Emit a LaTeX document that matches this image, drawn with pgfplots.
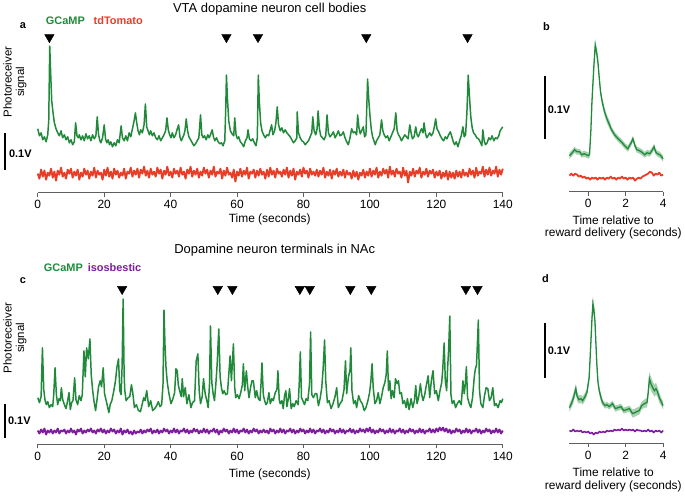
\documentclass[border=0pt]{standalone}
\usepackage{pgfplots}
\pgfplotsset{compat=1.18}
\usepgfplotslibrary{fillbetween}
\usepackage{pgfplotstable}
\usepackage{fontspec}
\setmainfont{Liberation Sans}

\definecolor{gcamp}{RGB}{32,138,58}
\definecolor{tdtom}{RGB}{232,62,40}
\definecolor{iso}{RGB}{128,26,160}
\definecolor{axgray}{RGB}{95,95,95}

\newcommand\lab{\fontsize{12}{13}\selectfont}
\newcommand\ttl{\fontsize{13}{15}\selectfont}
\newcommand\bld{\fontsize{11}{12}\selectfont\bfseries}

% averaged traces: time, mean, spread (signal heights in panel units)
\pgfplotstableread{
t m s
-1.0 36 3
-0.85 39 3
-0.73 42 3
-0.6 40 3
-0.46 40 3
-0.35 37 3
-0.2 38 3
-0.1 37 3
0.0 36 3
0.07 37 3
0.14 60 4
0.2 90 5
0.3 125 5
0.375 147 6
0.45 140 5
0.52 130 5
0.6 112 4
0.66 100 4
0.75 90 4
0.875 80 4
1.0 73 4
1.14 67 4
1.25 62 3
1.41 57 3
1.6 53 3
1.77 50 3
1.95 46 3
2.12 43 3
2.2 46 3
2.27 48 3
2.39 53 3
2.5 46 3
2.6 42 3
2.75 41 3
2.9 39 3
3.02 37 3
3.15 39 3
3.29 38 3
3.4 41 3
3.52 45 3
3.6 40 3
3.7 38 3
3.82 37 3
3.92 35 3
4.0 33 3
}\bgreen

\pgfplotstableread{
t m s
-1.0 36 4
-0.9 40 4
-0.8 45 5
-0.7 52 5
-0.66 55 5
-0.6 48 5
-0.5 44 4
-0.39 45 4
-0.3 43 4
-0.2 46 4
-0.07 51 4
0.05 66 5
0.14 100 6
0.2 125 7
0.25 140 8
0.3 135 7
0.36 123 6
0.46 80 5
0.52 62 4
0.59 53 4
0.7 45 4
0.77 41 3
0.9 38 3
1.0 39 3
1.12 37 3
1.3 40 3
1.45 35 3
1.6 36 3
1.75 37 3
1.9 33 3
2.05 34 3
2.2 35 3
2.37 30 4
2.5 31 4
2.6 32 4
2.73 33 4
2.85 38 4
3.0 40 4
3.14 41 5
3.2 50 6
3.27 65 7
3.35 60 7
3.45 56 6
3.54 53 6
3.62 55 6
3.7 52 5
3.8 46 5
3.9 42 4
4.0 38 4
}\dgreen

\pgfplotsset{
  trace/.style={
    scale only axis, anchor=south west, clip=false,
    height=170pt, ymin=0, ymax=170,
    axis x line=bottom, axis y line=none, ytick=\empty,
    x axis line style={-, draw=axgray, line width=1pt},
    tick align=outside, major tick length=4pt,
    major tick style={draw=axgray, line width=1pt},
    tick label style={font=\lab},
    /pgf/number format/assume math mode=true,
  },
  marker/.style={only marks, mark=triangle*, mark size=5.5pt,
    mark options={rotate=180, fill=black, draw=black}},
  bar/.style={black, line width=2pt},
  sig/.style={line width=1.5pt, line join=round},
  ctl/.style={line width=1.9pt, line join=round},
}

\begin{document}
\begin{tikzpicture}
\path (0pt,0pt) rectangle (685pt,-493pt);

% ---------------- panel a ----------------
\begin{axis}[trace, at={(37pt,-191pt)}, width=467pt, xmin=0, xmax=140, xtick={0,20,...,140}]
\addplot[tdtom, ctl] coordinates {
(0,19)(0.5,14)(1,23)(1.5,16)(2,22)(2.5,13)(3,20)(3.5,17)(4,24)(4.5,15)(5,21)(5.5,12)(6,22)(6.5,18)(7,25)(7.5,16)(8,20)(8.5,14)(9,23)(9.5,19)
(10,24)(10.5,15)(11,21)(11.5,17)(12,23)(12.5,13)(13,20)(13.5,16)(14,24)(14.5,18)(15,22)(15.5,14)(16,21)(16.5,17)(17,25)(17.5,15)(18,22)(18.5,18)(19,20)(19.5,13)
(20,23)(20.5,17)(21,25)(21.5,16)(22,21)(22.5,14)(23,24)(23.5,18)(24,22)(24.5,15)(25,20)(25.5,17)(26,24)(26.5,14)(27,21)(27.5,19)(28,25)(28.5,16)(29,22)(29.5,18)
(30,24)(30.5,15)(31,23)(31.5,19)(32,26)(32.5,17)(33,22)(33.5,15)(34,24)(34.5,18)(35,21)(35.5,16)(36,25)(36.5,19)(37,23)(37.5,14)(38,22)(38.5,18)(39,26)(39.5,17)
(40,21)(40.5,15)(41,24)(41.5,19)(42,22)(42.5,16)(43,25)(43.5,18)(44,21)(44.5,14)(45,23)(45.5,19)(46,26)(46.5,16)(47,22)(47.5,18)(48,24)(48.5,15)(49,21)(49.5,17)
(50,25)(50.5,19)(51,23)(51.5,15)(52,22)(52.5,18)(53,26)(53.5,16)(54,21)(54.5,19)(55,24)(55.5,14)(56,22)(56.5,17)(57,25)(57.5,18)(58,20)(58.5,15)(59,23)(59.5,11)
(60,21)(60.5,17)(61,24)(61.5,16)(62,22)(62.5,18)(63,25)(63.5,14)(64,21)(64.5,19)(65,23)(65.5,15)(66,22)(66.5,17)(67,24)(67.5,18)(68,21)(68.5,14)(69,23)(69.5,16)
(70,25)(70.5,18)(71,22)(71.5,15)(72,24)(72.5,19)(73,21)(73.5,16)(74,23)(74.5,18)(75,25)(75.5,15)(76,22)(76.5,17)(77,24)(77.5,13)(78,21)(78.5,18)(79,23)(79.5,16)
(80,25)(80.5,19)(81,22)(81.5,15)(82,24)(82.5,18)(83,21)(83.5,17)(84,23)(84.5,16)(85,22)(85.5,18)(86,25)(86.5,15)(87,21)(87.5,17)(88,23)(88.5,14)(89,22)(89.5,18)
(90,24)(90.5,16)(91,21)(91.5,17)(92,23)(92.5,15)(93,22)(93.5,18)(94,20)(94.5,14)(95,22)(95.5,16)(96,21)(96.5,13)(97,20)(97.5,17)(98,23)(98.5,15)(99,21)(99.5,17)
(100,24)(100.5,16)(101,22)(101.5,18)(102,25)(102.5,15)(103,21)(103.5,17)(104,24)(104.5,19)(105,23)(105.5,15)(106,26)(106.5,18)(107,22)(107.5,16)(108,24)(108.5,19)(109,21)(109.5,15)
(110,25)(110.5,17)(111,22)(111.5,10)(112,21)(112.5,17)(113,24)(113.5,16)(114,22)(114.5,19)(115,25)(115.5,15)(116,21)(116.5,18)(117,24)(117.5,16)(118,22)(118.5,19)(119,23)(119.5,15)
(120,21)(120.5,17)(121,22)(121.5,14)(122,20)(122.5,16)(123,22)(123.5,13)(124,21)(124.5,15)(125,20)(125.5,14)(126,22)(126.5,16)(127,21)(127.5,15)(128,23)(128.5,17)(129,20)(129.5,16)
(130,24)(130.5,18)(131,22)(131.5,15)(132,25)(132.5,17)(133,21)(133.5,19)(134,26)(134.5,16)(135,23)(135.5,18)(136,25)(136.5,17)(137,22)(137.5,19)(138,26)(138.5,16)(139,23)(139.5,18)(140,24)
};
\addplot[gcamp, sig] coordinates {
(0,64)(0.5,57)(1,60)(1.5,53)(2,56)(2.5,51)(3,58)(3.3,72)(3.6,147)(3.9,118)(4.2,92)(4.6,80)(5,70)(5.5,64)(6,60)(6.5,57)(7,62)(7.5,55)(8,58)(8.5,53)(9,56)(9.5,50)(10,53)(10.5,48)(11,51)(11.4,70)(11.8,57)
(12.2,55)(12.5,58)(13,53)(13.5,57)(14,52)(14.5,59)(15,54)(15.5,57)(16,52)(16.5,58)(17,54)(17.5,57)(17.9,76)(18.3,58)(18.7,52)(19,50)(19.5,55)(20,68)(20.4,54)(20.8,50)(21.2,53)(21.6,48)(22,51)(22.5,46)(23,50)(23.5,47)(24,53)(24.5,50)(25.1,67)
(25.5,55)(26,52)(26.5,57)(27,52)(27.5,60)(28,56)(28.5,64)(29,72)(29.4,80)(29.8,70)(30.2,62)(30.6,58)(31,63)(31.5,60)(32,68)(32.4,89)(32.8,66)(33.2,62)(33.6,58)(34,62)(34.5,57)(35,60)(35.5,55)(36,53)(36.5,57)(37,52)(37.5,55)(38,58)(38.5,62)(38.9,75)
(39.3,63)(39.7,58)(40.1,55)(40.5,60)(41,55)(41.5,58)(42,64)(42.4,68)(42.8,56)(43.2,52)(43.6,55)(44,58)(44.3,62)(44.7,74)(45.1,62)(45.5,56)(46,53)(46.5,50)(47,47)(47.5,49)(48,52)(48.5,55)(49,78)(49.4,58)(49.8,55)(50.2,57)(50.7,53)(51.2,58)(51.6,55)(52,58)(52.5,63)
(52.9,56)(53.3,52)(53.8,55)(54.3,51)(54.8,49)(55.3,50)(55.8,47)(56.3,52)(56.6,85)(56.8,118)(57.1,95)(57.5,72)(58,62)(58.5,59)(59,57)(59.3,75)(59.7,58)(60.1,54)(60.5,56)(61,51)(61.5,49)(62,46)(62.5,52)(63,55)(63.3,63)(63.7,54)(64.2,52)(64.7,54)(65.2,50)(65.7,47)
(66.1,55)(66.4,118)(66.7,92)(67.1,70)(67.5,62)(68,58)(68.5,55)(69,58)(69.5,57)(70,63)(70.4,68)(70.8,58)(71.3,62)(71.7,70)(72.1,86)(72.5,68)(73,62)(73.5,65)(74,60)(74.5,63)(75,60)(75.5,58)(76,56)(76.5,53)(77,50)(77.5,52)(78,55)(78.1,81)(78.5,60)(79,55)(79.5,52)
(80,51)(80.5,48)(81,50)(81.5,52)(82,56)(82.5,60)(82.8,76)(83.2,62)(83.7,58)(84.1,64)(84.4,82)(84.8,64)(85.2,57)(85.7,55)(86.2,53)(86.7,57)(87.1,78)(87.5,60)(88,56)(88.5,58)(89,61)(89.5,55)(90,58)(90.5,62)(91,57)(91.5,58)(92,61)(92.5,55)(93,51)(93.5,48)(94,55)
(94.5,64)(95,60)(95.5,61)(96,58)(96.3,78)(96.7,65)(97.1,59)(97.5,62)(98,66)(98.4,56)(98.8,58)(99.1,90)(99.3,114)(99.6,96)(100,78)(100.4,64)(100.8,56)(101.2,52)(101.6,48)(102,52)(102.5,55)(103,58)(103.5,73)(103.9,62)(104.3,58)(104.8,55)(105.3,57)(105.8,52)
(106.3,56)(106.8,60)(107.3,64)(107.8,80)(108.2,62)(108.6,58)(109,56)(109.5,52)(110,55)(110.5,58)(111,56)(111.5,54)(112,68)(112.4,60)(112.8,54)(113.3,56)(113.8,66)(114.2,58)(114.6,56)(115,60)(115.5,64)(116,60)(116.3,70)(116.7,60)(117.1,55)(117.5,57)(118,60)
(118.5,57)(119,60)(119.4,66)(119.8,74)(120.2,64)(120.7,61)(121.2,57)(121.7,54)(122.2,52)(122.7,56)(123.2,54)(123.7,58)(124.2,61)(124.6,57)(125,52)(125.5,48)(126,51)(126.5,46)(127,52)(127.5,57)(128,66)(128.4,56)(128.8,58)(129.2,80)(129.6,118)(130,95)(130.4,75)
(130.8,65)(131.2,60)(131.7,58)(132.2,55)(132.7,54)(133.2,51)(133.7,47)(134,63)(134.4,52)(134.8,48)(135.3,50)(135.8,55)(136.3,53)(136.8,57)(137.3,52)(137.8,55)(138.3,54)(138.8,57)(139.2,62)(139.6,64)(140,66)
};
\addplot[marker] coordinates {(3.5,156)(56.8,156)(66.3,156)(98.9,156)(129.4,156)};
\addplot[bar] coordinates {(-9.9,23)(-9.9,60)};
\end{axis}

% ---------------- panel b ----------------
\begin{axis}[trace, at={(571pt,-190pt)}, width=94pt, xmin=-1, xmax=4, xtick={0,2,4}]
\addplot[name path=bu, draw=none] table[x=t, y expr=\thisrow{m}+\thisrow{s}] {\bgreen};
\addplot[name path=bl, draw=none] table[x=t, y expr=\thisrow{m}-\thisrow{s}] {\bgreen};
\addplot[gcamp!40] fill between[of=bu and bl];
\addplot[gcamp, line width=1.3pt] table[x=t, y=m] {\bgreen};
\addplot[tdtom, line width=1.8pt, line join=round] coordinates {
(-1,16)(-0.9,18)(-0.8,16)(-0.7,18)(-0.6,17)(-0.5,15)(-0.4,16)(-0.3,14)(-0.2,15)(-0.1,13)(0,14)(0.1,12)(0.2,14)(0.3,13)(0.4,14)(0.5,12)(0.6,14)(0.7,13)(0.8,14)(0.9,12)
(1,14)(1.1,13)(1.2,15)(1.3,13)(1.4,14)(1.5,12)(1.6,14)(1.7,13)(1.8,15)(1.9,13)(2,14)(2.1,12)(2.2,14)(2.3,13)(2.4,14)(2.5,11)(2.6,13)(2.7,14)(2.8,13)(2.9,15)
(3,16)(3.1,17)(3.2,18)(3.3,20)(3.4,19)(3.5,16)(3.6,18)(3.7,17)(3.8,19)(3.9,16)(4,17)
};
\addplot[bar] coordinates {(-2.29,53)(-2.29,116)};
\end{axis}

% ---------------- panel c ----------------
\begin{axis}[trace, at={(37pt,-444pt)}, width=467pt, xmin=0, xmax=140, xtick={0,20,...,140}]
\addplot[iso, ctl] coordinates {
(0,14)(0.5,11)(1,15)(1.5,12)(2,16)(2.5,10)(3,14)(3.5,12)(4,15)(4.5,11)(5,14)(5.5,12)(6,16)(6.5,11)(7,14)(7.5,13)(8,15)(8.5,11)(9,14)(9.5,12)
(10,16)(10.5,12)(11,14)(11.5,10)(12,15)(12.5,13)(13,16)(13.5,11)(14,14)(14.5,12)(15,15)(15.5,13)(16,16)(16.5,12)(17,14)(17.5,11)(18,15)(18.5,13)(19,16)(19.5,12)
(20,15)(20.5,11)(21,14)(21.5,12)(22,16)(22.5,13)(23,15)(23.5,11)(24,14)(24.5,12)(25,16)(25.5,10)(26,14)(26.5,12)(27,15)(27.5,11)(28,13)(28.5,10)(29,14)(29.5,11)
(30,13)(30.5,12)(31,15)(31.5,11)(32,14)(32.5,12)(33,15)(33.5,13)(34,16)(34.5,11)(35,14)(35.5,12)(36,15)(36.5,11)(37,14)(37.5,12)(38,16)(38.5,13)(39,15)(39.5,11)
(40,14)(40.5,12)(41,16)(41.5,12)(42,15)(42.5,11)(43,14)(43.5,13)(44,16)(44.5,12)(45,15)(45.5,11)(46,14)(46.5,12)(47,16)(47.5,13)(48,15)(48.5,11)(49,14)(49.5,12)
(50,16)(50.5,12)(51,15)(51.5,11)(52,14)(52.5,13)(53,16)(53.5,12)(54,15)(54.5,10)(55,14)(55.5,12)(56,16)(56.5,13)(57,15)(57.5,11)(58,14)(58.5,12)(59,16)(59.5,12)
(60,15)(60.5,11)(61,14)(61.5,13)(62,16)(62.5,12)(63,15)(63.5,11)(64,14)(64.5,12)(65,16)(65.5,13)(66,15)(66.5,11)(67,14)(67.5,12)(68,15)(68.5,12)(69,14)(69.5,11)
(70,16)(70.5,13)(71,15)(71.5,11)(72,14)(72.5,12)(73,16)(73.5,12)(74,15)(74.5,11)(75,14)(75.5,13)(76,16)(76.5,12)(77,15)(77.5,11)(78,14)(78.5,12)(79,16)(79.5,13)
(80,15)(80.5,11)(81,14)(81.5,12)(82,16)(82.5,12)(83,15)(83.5,11)(84,14)(84.5,13)(85,16)(85.5,12)(86,15)(86.5,11)(87,14)(87.5,12)(88,16)(88.5,13)(89,15)(89.5,11)
(90,14)(90.5,12)(91,16)(91.5,12)(92,15)(92.5,11)(93,14)(93.5,13)(94,16)(94.5,12)(95,15)(95.5,11)(96,14)(96.5,12)(97,16)(97.5,13)(98,15)(98.5,12)(99,16)(99.5,13)
(100,17)(100.5,12)(101,15)(101.5,11)(102,14)(102.5,12)(103,16)(103.5,13)(104,15)(104.5,11)(105,14)(105.5,12)(106,16)(106.5,12)(107,15)(107.5,11)(108,14)(108.5,13)(109,16)(109.5,12)
(110,15)(110.5,11)(111,14)(111.5,12)(112,16)(112.5,13)(113,15)(113.5,11)(114,14)(114.5,12)(115,16)(115.5,12)(116,15)(116.5,11)(117,14)(117.5,13)(118,16)(118.5,12)(119,15)(119.5,12)
(120,16)(120.5,13)(121,17)(121.5,14)(122,17)(122.5,13)(123,16)(123.5,12)(124,15)(124.5,11)(125,14)(125.5,12)(126,16)(126.5,13)(127,15)(127.5,11)(128,14)(128.5,12)(129,16)(129.5,12)
(130,15)(130.5,11)(131,14)(131.5,13)(132,16)(132.5,12)(133,15)(133.5,11)(134,14)(134.5,12)(135,16)(135.5,13)(136,15)(136.5,11)(137,14)(137.5,12)(138,16)(138.5,12)(139,15)(139.5,11)(140,14)
};
\addplot[gcamp, sig] coordinates {
(0,47)(0.5,42)(1.0,48)(1.4,97)(1.8,55)(2.2,44)(2.6,40)(3.0,43)(3.5,37)(4,40)(4.5,38)(4.8,50)(5.2,77)(5.6,50)(6,40)(6.4,46)(6.8,44)(7.1,57)(7.5,45)(8,40)(8.5,36)(9,44)(9.4,52)(9.8,35)(10.2,42)(10.6,44)(11.1,67)(11.5,45)(12,40)(12.5,49)(13,44)(13.4,50)
(13.9,94)(14.3,68)(14.7,97)(15.2,86)(15.7,106)(16.1,70)(16.5,55)(16.9,44)(17.4,34)(17.8,44)(18.3,58)(18.8,64)(19.2,58)(19.7,77)(20.1,51)(20.6,44)(21.0,38)(21.4,32)(21.8,40)(22.3,44)(22.9,54)(23.4,64)(23.8,77)(24.3,86)(24.7,54)(25.1,50)(25.4,80)(25.7,146)(26.0,70)
(26.2,54)(26.6,44)(27.2,47)(27.7,48)(28.2,60)(28.6,52)(29.1,37)(29.7,40)(30.3,34)(30.9,33)(31.4,40)(31.9,47)(32.3,44)(32.8,54)(33.4,38)(34.0,44)(34.6,34)(35.2,36)(35.8,39)(36.3,43)(36.8,38)(37.3,40)(37.7,60)(38.0,135)(38.3,100)(38.6,78)(39.0,62)(39.5,51)
(40.1,41)(40.6,45)(41.2,52)(41.6,76)(42.0,74)(42.3,60)(42.7,54)(43.2,48)(43.5,66)(43.9,48)(44.4,57)(44.9,41)(45.5,50)(46.1,37)(46.6,42)(47.2,44)(47.7,84)(48.2,91)(48.6,54)(49.0,41)(49.5,48)(49.9,66)(50.4,51)(50.9,44)(51.3,37)(51.7,60)(52.0,119)(52.4,62)
(52.8,51)(53.2,44)(53.6,60)(54.0,80)(54.5,116)(54.9,68)(55.3,57)(55.7,51)(56.1,54)(56.6,50)(57.1,51)(57.5,70)(57.9,89)(58.3,64)(58.9,101)(59.3,57)(59.6,47)(60.1,50)(60.6,46)(61.1,52)(61.6,60)(61.9,81)(62.3,54)(62.8,74)(63.2,58)(63.6,47)(64.1,58)(64.5,64)
(64.9,64)(65.5,47)(65.9,54)(66.4,46)(66.9,44)(67.2,60)(67.5,82)(67.9,50)(68.3,44)(68.7,40)(69.1,42)(69.6,52)(70.0,41)(70.5,46)(70.9,44)(71.5,52)(72.0,55)(72.3,74)(72.7,45)(73.0,41)(73.5,44)(73.9,36)(74.3,49)(74.7,54)(75.0,38)(75.5,47)(75.8,56)(76.3,36)
(76.8,41)(77.2,38)(77.8,44)(78.4,40)(78.7,60)(79.05,93)(79.4,47)(79.8,44)(80.3,40)(80.8,46)(81.3,44)(81.8,60)(82.15,113)(82.5,50)(83.0,47)(83.5,51)(84.0,51)(84.5,39)(85.0,46)(85.5,57)(85.9,75)(86.35,105)(86.7,64)(87.2,42)(87.7,44)(88.3,36)(88.9,41)(89.5,48)
(90.0,57)(90.5,37)(91.0,41)(91.6,44)(92.2,55)(92.65,84)(93.0,51)(93.5,67)(94.0,75)(94.25,97)(94.6,54)(95.1,41)(95.6,44)(96.0,37)(96.6,49)(97.1,44)(97.7,41)(98.3,34)(98.8,37)(99.4,44)(99.9,52)(100.3,64)(100.65,81)(101.0,57)(101.5,41)(102.0,44)(102.5,52)
(103.0,41)(103.5,48)(104.0,57)(104.5,62)(104.9,70)(105.25,94)(105.6,54)(106.0,64)(106.4,46)(106.8,54)(107.3,47)(107.7,66)(108.2,61)(108.6,64)(109.0,51)(109.5,52)(109.9,41)(110.4,44)(110.9,37)(111.3,46)(111.8,35)(112.4,46)(112.9,37)(113.4,44)(113.8,59)
(114.2,41)(114.7,48)(115.2,61)(115.6,50)(116.0,44)(116.5,50)(116.9,58)(117.55,69)(118.0,47)(118.5,64)(119.0,74)(119.5,51)(120.0,54)(120.6,44)(121.1,54)(121.6,62)(121.9,74)(122.35,102)(122.7,64)(123.1,54)(123.4,77)(123.7,95)(124.05,129)(124.4,50)(124.8,41)
(125.3,44)(125.8,37)(126.3,41)(126.9,44)(127.5,40)(128.0,64)(128.4,51)(128.7,60)(129.05,78)(129.4,47)(129.9,41)(130.4,37)(130.9,47)(131.4,67)(131.7,75)(132.1,80)(132.65,125)(133.0,54)(133.4,41)(134.0,37)(134.5,49)(135.0,57)(135.5,56)(136.0,44)(136.5,47)
(137.0,57)(137.5,39)(138.0,41)(138.6,37)(139.2,44)(139.6,42)(140,46)
};
\addplot[marker] coordinates {(25.4,156)(54.2,156)(58.6,156)(78.9,156)(81.9,156)(94.1,156)(100.4,156)(128.9,156)(132.4,156)};
\addplot[bar] coordinates {(-9.9,7)(-9.9,41)};
\end{axis}

% ---------------- panel d ----------------
\begin{axis}[trace, at={(571pt,-443pt)}, width=94pt, xmin=-1, xmax=4, xtick={0,2,4}]
\addplot[name path=du, draw=none] table[x=t, y expr=\thisrow{m}+\thisrow{s}] {\dgreen};
\addplot[name path=dl, draw=none] table[x=t, y expr=\thisrow{m}-\thisrow{s}] {\dgreen};
\addplot[gcamp!40] fill between[of=du and dl];
\addplot[gcamp, line width=1.3pt] table[x=t, y=m] {\dgreen};
\addplot[iso, line width=1.6pt, line join=round] coordinates {
(-1,13)(-0.9,12)(-0.8,14)(-0.7,12)(-0.6,13)(-0.5,12)(-0.4,13)(-0.3,11)(-0.2,12)(-0.1,11)(0,12)(0.1,10)(0.2,11)(0.3,9)(0.4,11)(0.5,10)(0.6,12)(0.7,11)(0.8,12)(0.9,11)
(1,13)(1.1,12)(1.2,13)(1.3,12)(1.4,14)(1.5,13)(1.6,14)(1.7,13)(1.8,15)(1.9,13)(2,14)(2.1,13)(2.2,14)(2.3,13)(2.4,14)(2.5,12)(2.6,14)(2.7,13)(2.8,13)(2.9,12)
(3,13)(3.1,12)(3.2,14)(3.3,12)(3.4,13)(3.5,11)(3.6,13)(3.7,12)(3.8,13)(3.9,11)(4,13)
};
\addplot[bar] coordinates {(-2.29,66)(-2.29,121)};
\end{axis}

% ---------------- text ----------------
\node[font=\ttl] at (270pt,-7pt) {VTA dopamine neuron cell bodies};
\node[font=\ttl] at (275pt,-249pt) {Dopamine neuron terminals in NAc};
\node[font=\bld, text=gcamp, anchor=west, inner sep=0pt] at (45pt,-18pt) {GCaMP};
\node[font=\bld, text=tdtom, anchor=west, inner sep=0pt] at (93pt,-18pt) {tdTomato};
\node[font=\bld, text=gcamp, anchor=west, inner sep=0pt] at (43pt,-266pt) {GCaMP};
\node[font=\bld, text=iso, anchor=west, inner sep=0pt] at (87pt,-266pt) {isosbestic};
\node[font=\bld] at (22pt,-23pt) {a};
\node[font=\bld] at (548pt,-24pt) {b};
\node[font=\bld] at (22pt,-279pt) {c};
\node[font=\bld] at (547pt,-277pt) {d};
\node[font=\fontsize{11.5}{12.5}\selectfont, rotate=90, align=center] at (14pt,-80pt) {Photoreceiver\\signal};
\node[font=\fontsize{11.5}{12.5}\selectfont, rotate=90, align=center] at (14pt,-337pt) {Photoreceiver\\signal};
\node[font=\bld, anchor=west, inner sep=0pt] at (8pt,-152pt) {0.1V};
\node[font=\bld, anchor=west, inner sep=0pt] at (7pt,-420pt) {0.1V};
\node[font=\bld, anchor=west, inner sep=0pt] at (549pt,-108pt) {0.1V};
\node[font=\bld, anchor=west, inner sep=0pt] at (549pt,-350pt) {0.1V};
\node[font=\lab] at (270pt,-218pt) {Time (seconds)};
\node[font=\lab] at (270pt,-474pt) {Time (seconds)};
\node[font=\lab, align=center] at (615pt,-226pt) {Time relative to\\reward delivery (seconds)};
\node[font=\lab, align=center] at (615pt,-480pt) {Time relative to\\reward delivery (seconds)};
\end{tikzpicture}
\end{document}
